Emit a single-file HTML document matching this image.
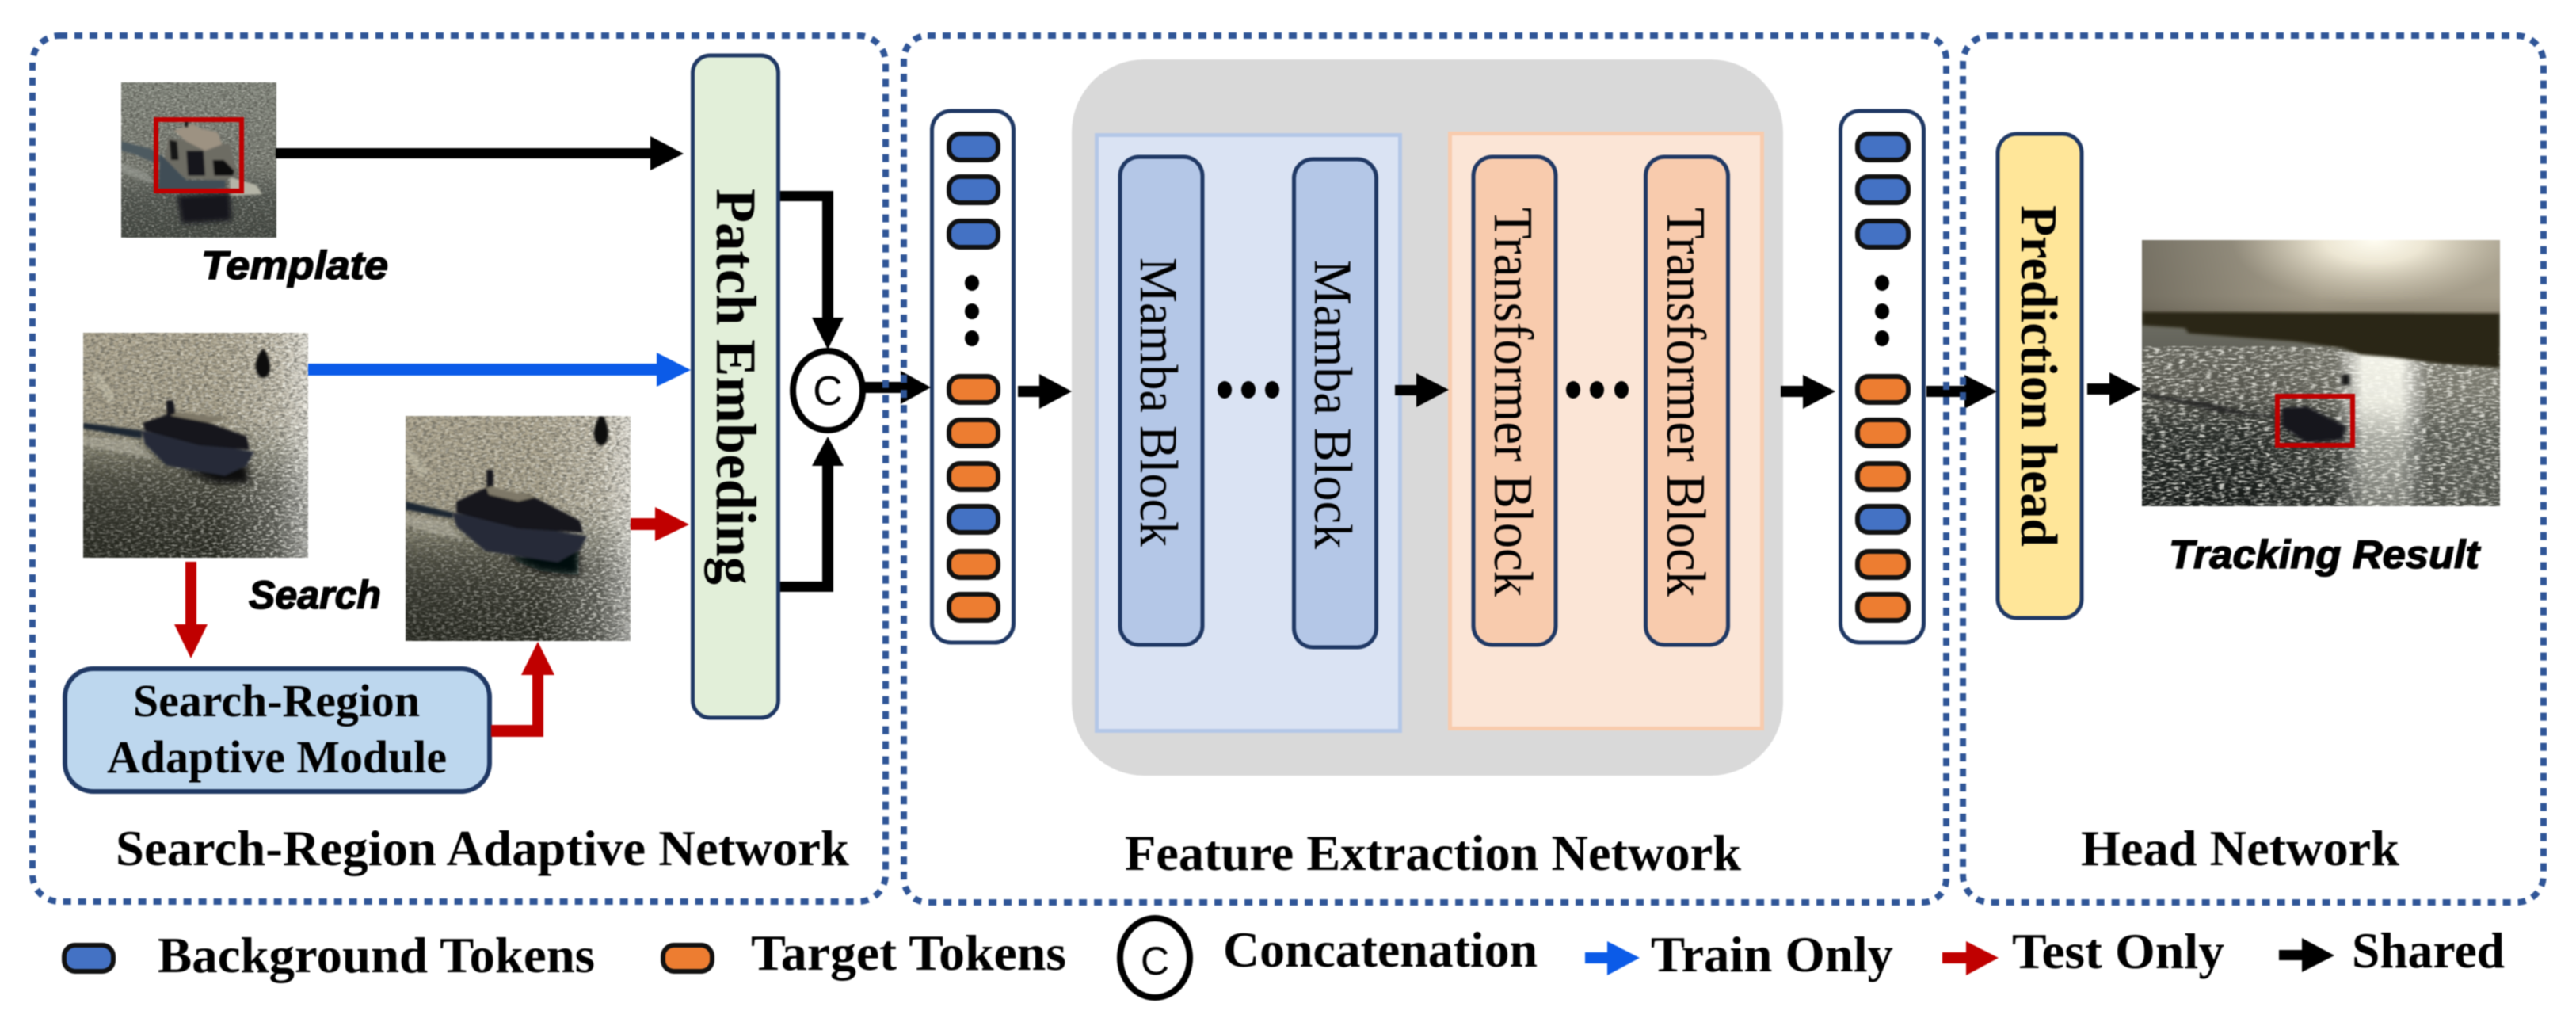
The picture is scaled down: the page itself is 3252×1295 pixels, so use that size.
<!DOCTYPE html>
<html><head><meta charset="utf-8"><title>Architecture diagram</title>
<style>
html,body{margin:0;padding:0;background:#fff;width:3252px;height:1295px;overflow:hidden}
svg{display:block}
text{fill:#000}
.s{font-family:"Liberation Serif",serif;font-weight:700}
.r{font-family:"Liberation Serif",serif;font-weight:400}
.i{font-family:"Liberation Sans",sans-serif;font-weight:700;font-style:italic}
.c{font-family:"Liberation Sans",sans-serif;font-weight:400}
</style></head><body>
<svg xmlns="http://www.w3.org/2000/svg" width="3252" height="1295" viewBox="0 0 3252 1295" style="filter:blur(.7px)">
<defs>
<filter id="n" x="0" y="0" width="100%" height="100%"><feTurbulence type="fractalNoise" baseFrequency="0.5 0.9" numOctaves="3" seed="4"/><feColorMatrix values="0 0 0 0 0.06 0 0 0 0 0.06 0 0 0 0 0.05 2.2 2.2 0 0 -1.9"/></filter>
<filter id="w" x="0" y="0" width="100%" height="100%"><feTurbulence type="fractalNoise" baseFrequency="0.55 1.1" numOctaves="3" seed="9"/><feColorMatrix values="0 0 0 0 1 0 0 0 0 1 0 0 0 0 0.93 2.2 2.2 0 0 -2.05"/></filter>
<filter id="t" x="0" y="0" width="100%" height="100%"><feTurbulence type="fractalNoise" baseFrequency="0.55 1.3" numOctaves="3" seed="14"/><feColorMatrix values="0 0 0 0 1 0 0 0 0 1 0 0 0 0 0.93 2.2 2.2 0 0 -2.05"/></filter>
<filter id="b1"><feGaussianBlur stdDeviation="0.5"/></filter>
<filter id="b2"><feGaussianBlur stdDeviation="1.5"/></filter>
<linearGradient id="sg" x1="0" y1="0" x2="0" y2="1"><stop offset="0" stop-color="#aca48e"/><stop offset=".38" stop-color="#a29b86"/><stop offset=".52" stop-color="#7d7b69"/><stop offset=".64" stop-color="#4b4b3f"/><stop offset=".76" stop-color="#33342b"/><stop offset="1" stop-color="#20221a"/></linearGradient>
<linearGradient id="sr" x1="0" y1="0" x2="1" y2="0"><stop offset=".6" stop-color="#fff" stop-opacity="0"/><stop offset=".86" stop-color="#fff" stop-opacity=".22"/><stop offset="1" stop-color="#fff" stop-opacity=".6"/></linearGradient>
<linearGradient id="mrg" x1="0" y1="0" x2="1" y2="0"><stop offset="0" stop-color="#555"/><stop offset=".7" stop-color="#aaa"/><stop offset="1" stop-color="#fff"/></linearGradient>
<mask id="mr" maskUnits="userSpaceOnUse" x="0" y="0" width="100" height="100"><rect width="100" height="100" fill="url(#mrg)"/></mask>
<linearGradient id="tg" x1="0" y1="0" x2="0" y2="1"><stop offset="0" stop-color="#84887e"/><stop offset=".55" stop-color="#777a71"/><stop offset=".75" stop-color="#4c514b"/><stop offset="1" stop-color="#3c413b"/></linearGradient>
<linearGradient id="sky" x1="0" y1="0" x2="0" y2="1"><stop offset="0" stop-color="#a9a290"/><stop offset=".7" stop-color="#a59d8a"/><stop offset="1" stop-color="#8b8371"/></linearGradient>
<linearGradient id="skyl" x1="0" y1="0" x2="1" y2="0"><stop offset="0" stop-color="#4e4b42" stop-opacity=".55"/><stop offset=".5" stop-color="#4e4b42" stop-opacity="0"/></linearGradient>
<radialGradient id="sun"><stop offset="0" stop-color="#fffdf2" stop-opacity="1"/><stop offset=".35" stop-color="#f9f3e0" stop-opacity=".85"/><stop offset="1" stop-color="#d8d0bb" stop-opacity="0"/></radialGradient>
<linearGradient id="wat" x1="0" y1="0" x2="0" y2="1"><stop offset="0" stop-color="#6e6e64"/><stop offset=".4" stop-color="#55554d"/><stop offset=".62" stop-color="#282c28"/><stop offset="1" stop-color="#151917"/></linearGradient>
<linearGradient id="watr" x1="0" y1="0" x2="1" y2="0"><stop offset=".3" stop-color="#b8b7a8" stop-opacity="0"/><stop offset=".85" stop-color="#b8b7a8" stop-opacity=".35"/></linearGradient>
<linearGradient id="col" x1="0" y1="0" x2="1" y2="0"><stop offset="0" stop-color="#fff" stop-opacity="0"/><stop offset=".3" stop-color="#fffff5" stop-opacity=".9"/><stop offset=".7" stop-color="#fffff5" stop-opacity=".9"/><stop offset="1" stop-color="#fff" stop-opacity="0"/></linearGradient>
<linearGradient id="colf" x1="0" y1="0" x2="0" y2="1"><stop offset="0" stop-color="#fff"/><stop offset=".35" stop-color="#eee"/><stop offset=".6" stop-color="#888"/><stop offset="1" stop-color="#555"/></linearGradient>
<mask id="cm" maskUnits="userSpaceOnUse" x="0" y="40" width="100" height="60"><rect x="0" y="40" width="100" height="60" fill="url(#colf)"/></mask>
</defs>

<!-- template image -->
<svg x="153" y="104" width="196" height="196" viewBox="0 0 100 100" preserveAspectRatio="none">
<rect width="100" height="100" fill="url(#tg)"/>
<rect width="100" height="100" filter="url(#w)" opacity=".4"/>
<rect width="100" height="100" filter="url(#n)" opacity=".6"/>
<g filter="url(#b1)">
<path d="M0 38L20 43 27 50 22 52 8 46 0 44Z" fill="#4d5a60"/>
<path d="M0 52L16 58 24 66 10 62 0 58Z" fill="#9a9d94" opacity=".6"/>
<path d="M70 61L87 66 91 72 70 73Z" fill="#b5b5a7"/>
<path d="M36 73L70 71 71 89 39 91Z" fill="#14181a" filter="url(#b2)"/>
<path d="M30 36L70 40 75 60 66 63 42 62 28 50Z" fill="#6d6c64"/>
<path d="M34 31L46 27 52 30 62 32 65 40 54 44 42 38Z" fill="#9d9282"/>
<path d="M31 37L36 38 37 50 32 50Z" fill="#121316"/>
<path d="M42 44L53 44 54 60 43 60Z" fill="#14141a"/>
<path d="M59 50L66 50 73 57 72 60 60 60Z" fill="#0e0e10"/>
<path d="M25 46L42 63 67 63 67 68 45 71 24 70Z" fill="#3f4d57"/>
<path d="M41 25L43 25 43 29 41 29Z" fill="#111"/>
</g>
</svg>
<rect x="197" y="151" width="108" height="90" fill="none" stroke="#c00000" stroke-width="6"/>

<!-- search image 1 -->
<svg x="105" y="420" width="284" height="284" viewBox="0 0 100 100" preserveAspectRatio="none">
<rect width="100" height="100" fill="url(#sg)"/>
<rect width="100" height="100" fill="url(#sr)"/>
<rect width="100" height="100" filter="url(#n)" opacity=".55"/>
<rect width="100" height="100" filter="url(#w)" mask="url(#mr)" opacity=".8"/>
<g filter="url(#b1)">
<path d="M80 7C83 10 84 17 82 19 80 21 78 20 77 17 76 13 78 9 80 7Z" fill="#0d0e0c"/>
<path d="M6 16L14 28 12 32 4 20Z" fill="#cfccb9" opacity=".4"/>
<path d="M0 40L26 43.500 26 47 0 42.500Z" fill="#1f2630"/>
<path d="M0 46L22 48 32 56 14 53 0 50Z" fill="#c8c6b7" opacity=".4"/>
<path d="M44 61L72.500 58 74 67 59.700 67Z" fill="#070809" filter="url(#b2)"/>
<path d="M26 43.500L76 53 72.500 59 63 63.500 37 59 27.400 49.400Z" fill="#252b38"/>
<path d="M26.600 40L37 36.500 50 38 72.500 46 74 52 51.600 50 27.400 43.500Z" fill="#17171a"/>
<path d="M32 34L66 38 56 40 40 37Z" fill="#7e7867"/>
<path d="M37 30L40 30 41 36 37 37Z" fill="#17171a"/>
</g>
</svg>

<!-- search image 2 -->
<svg x="512" y="525" width="284" height="284" viewBox="0 0 100 100" preserveAspectRatio="none">
<rect width="100" height="100" fill="url(#sg)"/>
<rect width="100" height="100" fill="url(#sr)"/>
<rect width="100" height="100" filter="url(#n)" opacity=".55"/>
<rect width="100" height="100" filter="url(#w)" mask="url(#mr)" opacity=".8"/>
<g filter="url(#b1)">
<path d="M86 0L88 0C90 4 91 9 89 12 87 14 85 13 84 10 83 6 85 3 86 0Z" fill="#0d0e0c"/>
<path d="M0 12L10 24 8 28 0 18Z" fill="#cfccb9" opacity=".4"/>
<path d="M0 38L21 43 21 45.500 0 41.700Z" fill="#1f2630"/>
<path d="M0 44L18 47 26 55 10 52 0 48Z" fill="#c8c6b7" opacity=".4"/>
<path d="M45 63L77 57 77 71 60 69Z" fill="#060708" filter="url(#b2)"/>
<path d="M21 43L80.600 53.500 77.400 59.400 67.700 65 35.500 60 22.600 49Z" fill="#252b38"/>
<path d="M22.600 38L35.500 32 55 35 77.400 46.500 79 52 50 50 22.600 43Z" fill="#17171a"/>
<path d="M35.500 31L58 36 50 38 37 35Z" fill="#7e7867"/>
<path d="M36 24L39 24 39 31 36 32Z" fill="#17171a"/>
</g>
</svg>

<!-- tracking result image -->
<svg x="2704" y="303" width="452" height="336" viewBox="0 0 100 100" preserveAspectRatio="none">
<rect width="100" height="30" fill="url(#sky)"/>
<rect width="100" height="30" fill="url(#skyl)"/>
<ellipse cx="65" cy="0" rx="40" ry="24" fill="url(#sun)"/>
<rect y="28" width="100" height="72" fill="url(#wat)"/>
<rect y="28" width="100" height="72" fill="url(#watr)"/>
<rect y="40" width="100" height="60" filter="url(#t)" opacity=".75"/>
<g mask="url(#cm)"><rect x="54" y="42" width="26" height="58" fill="url(#col)"/></g>
<g filter="url(#b1)">
<path d="M0 27L100 27.500 100 48 84 46.500 70 44 61 43 56 40.500 42 38 13 35 12 33 0 32Z" fill="#2b2616"/>
<path d="M0 57L12 60 17 60.500 30 65 38 66 38 67 22 65 10 61 0 58.500Z" fill="#1f2322" opacity=".8"/>
<path d="M55.800 50.500L58 50.500 58 54.500 55.800 54.500Z" fill="#121314"/>
<path d="M39 63L46 62.500 57 70 56 75 46 76 39 70Z" fill="#14171f"/>
</g>
</svg>
<rect x="2875" y="500" width="95" height="62" fill="none" stroke="#c00000" stroke-width="6"/>

<!-- grey container and groups -->
<rect x="1353" y="75" width="898" height="904" rx="92" ry="92" fill="#d9d9d9"/>
<rect x="1384.500" y="170.500" width="383" height="752" fill="#dae3f3" stroke="#b4c7e7" stroke-width="5"/>
<rect x="1830.500" y="168.500" width="394" height="751" fill="#fbe5d6" stroke="#f8cbad" stroke-width="5"/>

<!-- blocks -->
<g stroke="#1f3864" stroke-width="5">
<rect x="1414" y="198" width="104" height="616" rx="24" fill="#b4c7e7"/>
<rect x="1633.500" y="201" width="104" height="616" rx="24" fill="#b4c7e7"/>
<rect x="1860" y="198" width="104" height="616" rx="24" fill="#f8cbad"/>
<rect x="2077.500" y="198" width="104" height="616" rx="24" fill="#f8cbad"/>
<rect x="874.500" y="70" width="108" height="836" rx="22" fill="#e2efd9"/>
<rect x="2522" y="169" width="106" height="611" rx="24" fill="#ffe699"/>
<rect x="1176.500" y="140" width="103" height="671" rx="24" fill="#fff"/>
<rect x="2323.500" y="140" width="105" height="671" rx="24" fill="#fff"/>
</g>
<rect x="82" y="844" width="536" height="155" rx="36" fill="#bdd7ee" stroke="#1f3864" stroke-width="6"/>

<!-- tokens -->
<g stroke="#111" stroke-width="6">
<g fill="#4472c4">
<rect x="1198" y="169" width="62" height="33" rx="14"/>
<rect x="1198" y="223" width="62" height="33" rx="14"/>
<rect x="1198" y="279" width="62" height="33" rx="14"/>
<rect x="1198" y="639" width="62" height="33" rx="14"/>
<rect x="2345" y="169" width="64" height="33" rx="14"/>
<rect x="2345" y="223" width="64" height="33" rx="14"/>
<rect x="2345" y="279" width="64" height="33" rx="14"/>
<rect x="2345" y="639" width="64" height="33" rx="14"/>
<rect x="81" y="1193" width="62" height="33" rx="14"/>
</g>
<g fill="#ed7d31">
<rect x="1198" y="475" width="62" height="33" rx="14"/>
<rect x="1198" y="530" width="62" height="33" rx="14"/>
<rect x="1198" y="585" width="62" height="33" rx="14"/>
<rect x="1198" y="696" width="62" height="33" rx="14"/>
<rect x="1198" y="750" width="62" height="33" rx="14"/>
<rect x="2345" y="475" width="64" height="33" rx="14"/>
<rect x="2345" y="530" width="64" height="33" rx="14"/>
<rect x="2345" y="585" width="64" height="33" rx="14"/>
<rect x="2345" y="696" width="64" height="33" rx="14"/>
<rect x="2345" y="750" width="64" height="33" rx="14"/>
<rect x="837" y="1193" width="62" height="33" rx="14"/>
</g>
</g>

<!-- dots -->
<g fill="#000">
<ellipse cx="1227" cy="357" rx="9" ry="10"/><ellipse cx="1227" cy="393" rx="9" ry="10"/><ellipse cx="1227" cy="427" rx="9" ry="10"/>
<ellipse cx="2376" cy="357" rx="9" ry="10"/><ellipse cx="2376" cy="393" rx="9" ry="10"/><ellipse cx="2376" cy="427" rx="9" ry="10"/>
<ellipse cx="1546" cy="492" rx="9" ry="11"/><ellipse cx="1576" cy="492" rx="9" ry="11"/><ellipse cx="1606" cy="492" rx="9" ry="11"/>
<ellipse cx="1986" cy="492" rx="9" ry="11"/><ellipse cx="2016" cy="492" rx="9" ry="11"/><ellipse cx="2047" cy="492" rx="9" ry="11"/>
</g>

<!-- black arrows -->
<g fill="#000">
<polygon points="348,187 821,187 821,172 863,194 821,215 821,200 348,200"/>
<polygon points="1090,482 1137,482 1137,468 1175,489 1137,510 1137,496 1090,496"/>
<polygon points="1285,487 1312,487 1312,472 1353,494 1312,516 1312,501 1285,501"/>
<polygon points="1761,486 1788,486 1788,471 1829,492 1788,514 1788,499 1761,499"/>
<polygon points="2248,487 2276,487 2276,473 2317,494 2276,516 2276,501 2248,501"/>
<polygon points="2432,487 2480,487 2480,473 2521,494 2480,516 2480,501 2432,501"/>
<polygon points="2635,484 2663,484 2663,470 2703,491 2663,512 2663,498 2635,498"/>
<polygon points="2877,1199 2906,1199 2906,1184 2947,1206 2906,1227 2906,1212 2877,1212"/>
<polygon points="985,241 1052,241 1052,401 1065,401 1045,441 1025,401 1038,401 1038,254 985,254"/>
<polygon points="985,747 1052,747 1052,588 1065,588 1045,551 1025,588 1038,588 1038,734 985,734"/>
</g>
<!-- blue arrows -->
<g fill="#0b5be8">
<polygon points="389,459 829,459 829,445 872,467 829,488 829,474 389,474"/>
<polygon points="2001,1202 2029,1202 2029,1188 2070,1209 2029,1231 2029,1216 2001,1216"/>
</g>
<!-- red arrows -->
<g fill="#c00000">
<polygon points="796,654 827,654 827,640 870,662 827,683 827,669 796,669"/>
<polygon points="234,709 248,709 248,788 262,788 241,831 220,788 234,788"/>
<polygon points="620,915 672,915 672,852 658,852 679,810 700,852 686,852 686,930 620,930"/>
<polygon points="2452,1202 2482,1202 2482,1188 2523,1209 2482,1231 2482,1216 2452,1216"/>
</g>

<!-- dashed panels -->
<g fill="none" stroke="#2f5597" stroke-width="8" stroke-dasharray="10 9">
<rect x="41" y="45" width="1077" height="1093" rx="34"/>
<rect x="1141" y="45" width="1316" height="1094" rx="30"/>
<rect x="2478" y="45" width="733" height="1094" rx="34"/>
</g>

<!-- concat circles -->
<ellipse cx="1045" cy="493" rx="44" ry="50" fill="#fff" stroke="#000" stroke-width="8"/>
<text class="c" x="1045" y="511" font-size="52" text-anchor="middle">C</text>
<ellipse cx="1458" cy="1209" rx="44" ry="50" fill="#fff" stroke="#000" stroke-width="8"/>
<text class="c" x="1458" y="1230" font-size="50" text-anchor="middle">C</text>

<!-- rotated labels -->
<text class="s" transform="translate(905,238) rotate(90)" font-size="72" textLength="500" lengthAdjust="spacingAndGlyphs">Patch Embeding</text>
<text class="s" transform="translate(2552,259) rotate(90)" font-size="66" textLength="431" lengthAdjust="spacingAndGlyphs">Prediction head</text>
<text class="r" transform="translate(1440,325) rotate(90)" font-size="68" textLength="365" lengthAdjust="spacingAndGlyphs">Mamba Block</text>
<text class="r" transform="translate(1660,328) rotate(90)" font-size="68" textLength="365" lengthAdjust="spacingAndGlyphs">Mamba Block</text>
<text class="r" transform="translate(1887,262) rotate(90)" font-size="70" textLength="491" lengthAdjust="spacingAndGlyphs">Transformer Block</text>
<text class="r" transform="translate(2105,262) rotate(90)" font-size="70" textLength="491" lengthAdjust="spacingAndGlyphs">Transformer Block</text>

<!-- module text -->
<text class="s" x="168" y="904" font-size="58" textLength="362" lengthAdjust="spacingAndGlyphs">Search-Region</text>
<text class="s" x="135" y="975" font-size="58" textLength="429" lengthAdjust="spacingAndGlyphs">Adaptive Module</text>

<!-- italic labels -->
<text class="i" x="254" y="352" font-size="50" textLength="236" lengthAdjust="spacingAndGlyphs" stroke="#000" stroke-width="1.5">Template</text>
<text class="i" x="314" y="768" font-size="50" textLength="167" lengthAdjust="spacingAndGlyphs" stroke="#000" stroke-width="1.5">Search</text>
<text class="i" x="2738" y="717" font-size="50" textLength="392" lengthAdjust="spacingAndGlyphs" stroke="#000" stroke-width="1.5">Tracking Result</text>

<!-- panel titles -->
<text class="s" x="146" y="1092" font-size="64" textLength="926" lengthAdjust="spacingAndGlyphs">Search-Region Adaptive Network</text>
<text class="s" x="1420" y="1098" font-size="64" textLength="778" lengthAdjust="spacingAndGlyphs">Feature Extraction Network</text>
<text class="s" x="2627" y="1092" font-size="64" textLength="402" lengthAdjust="spacingAndGlyphs">Head Network</text>

<!-- legend -->
<text class="s" x="199" y="1227" font-size="63" textLength="552" lengthAdjust="spacingAndGlyphs">Background Tokens</text>
<text class="s" x="948" y="1224" font-size="63" textLength="398" lengthAdjust="spacingAndGlyphs">Target Tokens</text>
<text class="s" x="1544" y="1220" font-size="63" textLength="397" lengthAdjust="spacingAndGlyphs">Concatenation</text>
<text class="s" x="2084" y="1226" font-size="63" textLength="306" lengthAdjust="spacingAndGlyphs">Train Only</text>
<text class="s" x="2540" y="1222" font-size="63" textLength="268" lengthAdjust="spacingAndGlyphs">Test Only</text>
<text class="s" x="2969" y="1221" font-size="63" textLength="193" lengthAdjust="spacingAndGlyphs">Shared</text>
</svg>
</body></html>
